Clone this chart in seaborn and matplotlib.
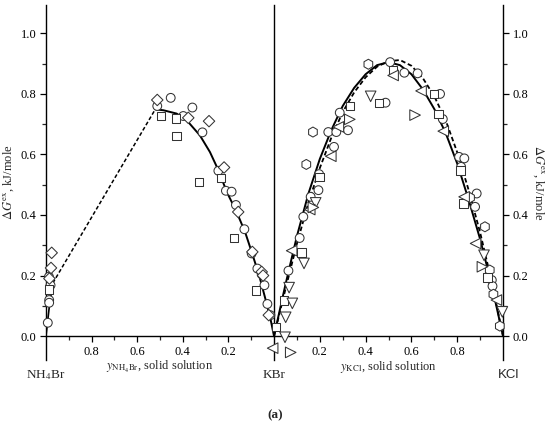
import pandas as pd
import seaborn as sns
import matplotlib.pyplot as plt
from matplotlib.ticker import FixedLocator

# ---- data ----
# left part: NH4Br - KBr (x = y_NH4Br, axis runs 1 -> 0)
left_circle_x = [0.992, 0.986, 0.986, 0.980, 0.987, 0.512, 0.453, 0.398, 0.358, 0.314,
                 0.244, 0.211, 0.186, 0.167, 0.130, 0.098, 0.073, 0.054, 0.042, 0.029, 0.016]
left_circle_y = [0.044, 0.119, 0.110, 0.168, 0.196, 0.760, 0.787, 0.727, 0.755, 0.673,
                 0.546, 0.480, 0.477, 0.433, 0.353, 0.273, 0.223, 0.204, 0.168, 0.106, 0.069]
left_square_x = [0.987, 0.496, 0.431, 0.427, 0.328, 0.232, 0.175, 0.080]
left_square_y = [0.154, 0.728, 0.719, 0.662, 0.508, 0.523, 0.325, 0.150]
left_diamond_x = [0.975, 0.978, 0.985, 0.512, 0.376, 0.285, 0.219, 0.157, 0.095, 0.054, 0.048, 0.023]
left_diamond_y = [0.275, 0.225, 0.190, 0.780, 0.721, 0.710, 0.557, 0.410, 0.278, 0.212, 0.200, 0.069]
left_tri_x = [0.006]
left_tri_y = [-0.040]

left_fit_x = [0.52, 0.485, 0.427, 0.383, 0.325, 0.281, 0.244, 0.207, 0.164, 0.127,
              0.098, 0.065, 0.035, 0.015, 0.0]
left_fit_y = [0.749, 0.746, 0.735, 0.713, 0.663, 0.608, 0.548, 0.476, 0.410, 0.344,
              0.278, 0.200, 0.115, 0.055, 0.0]
left_edge_x = [1.0, 0.985, 0.970]
left_edge_y = [0.0, 0.10, 0.175]
left_dash_x = [0.970, 0.520]
left_dash_y = [0.175, 0.750]

# right part: KBr - KCl (x = y_KCl)
right_circle_x = [0.063, 0.112, 0.128, 0.160, 0.194, 0.197, 0.237, 0.262, 0.272, 0.287,
                  0.323, 0.487, 0.507, 0.569, 0.627, 0.725, 0.737, 0.808, 0.831, 0.817,
                  0.878, 0.885, 0.951, 0.954]
right_circle_y = [0.216, 0.324, 0.394, 0.460, 0.482, 0.535, 0.674, 0.625, 0.674, 0.738,
                  0.680, 0.771, 0.905, 0.870, 0.868, 0.800, 0.717, 0.592, 0.587, 0.559,
                  0.427, 0.471, 0.185, 0.165]
right_hex_x = [0.141, 0.170, 0.412, 0.856, 0.921, 0.942, 0.958, 0.986]
right_hex_y = [0.567, 0.674, 0.898, 0.457, 0.361, 0.218, 0.138, 0.033]
right_square_x = [0.008, 0.044, 0.120, 0.199, 0.331, 0.459, 0.520, 0.700, 0.718, 0.815, 0.827, 0.932]
right_square_y = [0.030, 0.117, 0.276, 0.525, 0.759, 0.771, 0.880, 0.800, 0.733, 0.547, 0.438, 0.193]
right_down_x = [0.048, 0.051, 0.080, 0.066, 0.131, 0.182, 0.422, 0.917, 0.997]
right_down_y = [-0.004, 0.062, 0.108, 0.160, 0.240, 0.440, 0.792, 0.267, 0.080]
right_left_x = [0.077, 0.156, 0.248, 0.281, 0.520, 0.642, 0.739, 0.830, 0.880, 0.971]
right_left_y = [0.282, 0.418, 0.594, 0.691, 0.861, 0.810, 0.677, 0.460, 0.306, 0.119]
right_right_x = [0.073, 0.172, 0.331, 0.616, 0.910]
right_right_y = [-0.054, 0.425, 0.716, 0.730, 0.229]

right_fit_x = [0.0, 0.05, 0.1, 0.15, 0.2, 0.25, 0.3, 0.35, 0.4, 0.45, 0.5,
               0.55, 0.6, 0.65, 0.7, 0.75, 0.8, 0.85, 0.9, 0.95, 1.0]
right_fit_y = [0.0, 0.17, 0.33, 0.47, 0.585, 0.68, 0.76, 0.82, 0.865, 0.895, 0.905,
               0.895, 0.865, 0.815, 0.75, 0.67, 0.57, 0.45, 0.32, 0.17, 0.0]
right_dash_y = [0.0, 0.155, 0.305, 0.44, 0.555, 0.655, 0.74, 0.805, 0.855, 0.89, 0.908,
                0.912, 0.893, 0.852, 0.792, 0.712, 0.607, 0.482, 0.342, 0.182, 0.0]

def points(groups):
    rows = []
    for kind, xs, ys in groups:
        rows += [{"x": a, "y": b, "kind": kind} for a, b in zip(xs, ys)]
    return pd.DataFrame(rows)

left_df = points([("circle", left_circle_x, left_circle_y),
                  ("square", left_square_x, left_square_y),
                  ("diamond", left_diamond_x, left_diamond_y),
                  ("tri_left", left_tri_x, left_tri_y)])
right_df = points([("circle", right_circle_x, right_circle_y),
                   ("hexagon", right_hex_x, right_hex_y),
                   ("square", right_square_x, right_square_y),
                   ("tri_down", right_down_x, right_down_y),
                   ("tri_left", right_left_x, right_left_y),
                   ("tri_right", right_right_x, right_right_y)])

marker_map = {"circle": "o", "square": "s", "diamond": "D", "hexagon": "h",
              "tri_down": "v", "tri_left": "<", "tri_right": ">"}
# triangles and hexagons look smaller than circles at the same area
size_map = {"circle": 40, "square": 36, "diamond": 34, "hexagon": 52,
            "tri_down": 58, "tri_left": 58, "tri_right": 58}

sns.set_style("ticks")
plt.rcParams["font.family"] = ["Liberation Serif", "DejaVu Serif"]
plt.rcParams["mathtext.fontset"] = "stix"

fig = plt.figure(figsize=(5.5, 4.23), dpi=100)
ax1 = fig.add_axes([0.0836, 0.149, 0.4146, 0.839])
ax2 = fig.add_axes([0.4982, 0.149, 0.4164, 0.839], sharey=ax1)
ax1.set_facecolor("none")
ax2.set_facecolor("none")

# curves
line_kw = dict(color="black", sort=False, estimator=None, legend=False)
sns.lineplot(x=left_fit_x, y=left_fit_y, ax=ax1, lw=1.4, **line_kw)
sns.lineplot(x=left_edge_x, y=left_edge_y, ax=ax1, lw=1.2, **line_kw)
sns.lineplot(x=left_dash_x, y=left_dash_y, ax=ax1, lw=1.1,
             linestyle=(0, (2.5, 1.5)), **line_kw)
sns.lineplot(x=right_fit_x, y=right_fit_y, ax=ax2, lw=1.4, **line_kw)
sns.lineplot(x=right_fit_x, y=right_dash_y, ax=ax2, lw=1.3,
             linestyle=(0, (2.5, 1.5)), **line_kw)

# experimental points
for ax, df in ((ax1, left_df), (ax2, right_df)):
    sns.scatterplot(data=df, x="x", y="y", style="kind", markers=marker_map,
                    size="kind", sizes=size_map,
                    color="white", edgecolor="#333333", linewidth=0.75,
                    legend=False, zorder=3, ax=ax)
    for coll in ax.collections:
        coll.set_clip_on(False)

ylab = r"$\Delta G^{\mathrm{ex}}$, kJ/mole"
yt = [0.0, 0.2, 0.4, 0.6, 0.8, 1.0]
ymin = [0.1, 0.3, 0.5, 0.7, 0.9]

# left axis (reversed)
ax1.set_xlim(1.0, 0.0)
ax1.set_ylim(-0.079, 1.0935)
ax1.spines["top"].set_visible(False)
ax1.spines["bottom"].set_position(("data", 0))
ax1.set_xticks([0.8, 0.6, 0.4, 0.2])
ax1.set_xticklabels(["0.8", "0.6", "0.4", "0.2"])
ax1.xaxis.set_minor_locator(FixedLocator([0.9, 0.7, 0.5, 0.3, 0.1]))
ax1.set_yticks(yt)
ax1.set_yticklabels([f"{v:.1f}" for v in yt])
ax1.yaxis.set_minor_locator(FixedLocator(ymin))
ax1.set_ylabel(ylab, fontsize=9, labelpad=3)
ax1.set_xlabel(r"$y_{\mathrm{NH_4Br}}$, solid solution", fontsize=9, labelpad=1)

# right axis
ax2.set_xlim(0.0, 1.0)
ax2.spines["top"].set_visible(False)
ax2.spines["left"].set_visible(False)
ax2.spines["bottom"].set_position(("data", 0))
ax2.yaxis.tick_right()
ax2.yaxis.set_label_position("right")
ax2.set_xticks([0.2, 0.4, 0.6, 0.8])
ax2.set_xticklabels(["0.2", "0.4", "0.6", "0.8"])
ax2.xaxis.set_minor_locator(FixedLocator([0.1, 0.3, 0.5, 0.7, 0.9]))
ax2.yaxis.set_minor_locator(FixedLocator(ymin))
ax2.set_ylabel(ylab, fontsize=9, rotation=270, labelpad=12)
ax2.set_xlabel(r"$y_{\mathrm{KCl}}$, solid solution", fontsize=9, labelpad=1)

for ax in (ax1, ax2):
    for sp in ax.spines.values():
        sp.set_linewidth(1.0)
        sp.set_color("black")
    ax.tick_params(which="major", direction="out", length=4, width=0.9,
                   labelsize=9, colors="black", pad=3)
    ax.tick_params(which="minor", direction="out", length=3, width=0.9)
ax2.tick_params(axis="y", which="both", left=False)

# component labels
ax1.text(1.0, -0.13, r"NH$_4$Br", ha="center", va="center", fontsize=9.5)
ax1.text(0.0, -0.13, "KBr", ha="center", va="center", fontsize=9.5)
ax2.text(1.025, -0.13, "KCl", ha="center", va="center", fontsize=9.5,
         family=["Liberation Sans", "DejaVu Sans"])
fig.text(0.5, 0.019, "(a)", ha="center", va="center", fontsize=9.5, fontweight="bold")

fig.savefig("out.png", dpi=100)
